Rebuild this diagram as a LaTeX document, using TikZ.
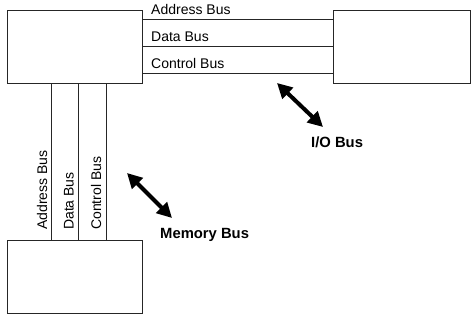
\documentclass[tikz,border=0pt]{standalone}
\usepackage{fontspec}
\setmainfont{Liberation Sans}
\usetikzlibrary{arrows.meta}

\begin{document}
\begin{tikzpicture}[x=1pt,y=-1pt,line cap=butt,
  unit/.style={draw=black!85,line width=0.8pt,minimum width=135pt,minimum height=73pt,inner sep=0pt},
  busline/.style={draw=black!85,line width=0.7pt},
  buslabel/.style={font=\fontsize{14}{16}\selectfont,inner sep=0pt},
  sidelabel/.style={font=\bfseries\fontsize{14.8}{16}\selectfont,inner sep=0pt},
  linkarrow/.style={{Triangle[length=15pt,width=15pt]}-{Triangle[length=15pt,width=15pt]},line width=4pt}]
\useasboundingbox (0,0) rectangle (474,320);
% units
\node[unit] (cpu) at (74.5,46.5) {};
\node[unit,minimum width=137pt] (io) at (401.5,46.5) {};
\node[unit] (mem) at (74.5,276.5) {};
% horizontal buses
\draw[busline] (cpu.east |- 0,19) -- (io.west |- 0,19);
\draw[busline] (cpu.east |- 0,46) -- (io.west |- 0,46);
\draw[busline] (cpu.east |- 0,73) -- (io.west |- 0,73);
\node[buslabel,anchor=base west] (haddr) at (151,14.5) {Address Bus};
\node[buslabel,anchor=base west] (hdata) at (151,41.5) {Data Bus};
\node[buslabel,anchor=base west] (hctrl) at (151,68.5) {Control Bus};
% vertical buses
\draw[busline] (cpu.south -| 51,0) -- (mem.north -| 51,0);
\draw[busline] (cpu.south -| 78,0) -- (mem.north -| 78,0);
\draw[busline] (cpu.south -| 106,0) -- (mem.north -| 106,0);
\node[buslabel,rotate=90,anchor=base west] (vaddr) at (47,230) {Address Bus};
\node[buslabel,rotate=90,anchor=base west] (vdata) at (73.5,230) {Data Bus};
\node[buslabel,rotate=90,anchor=base west] (vctrl) at (101,230) {Control Bus};
% bus arrows
\coordinate (memA) at (127,173);
\coordinate (memB) at (172,218);
\draw[linkarrow] (memA) -- (memB);
\node[sidelabel,anchor=base west] (memlabel) at (160,238.5) {Memory Bus};
\coordinate (ioA) at (277,83);
\coordinate (ioB) at (323,127);
\draw[linkarrow] (ioA) -- (ioB);
\node[sidelabel,anchor=base west] (iolabel) at (311,147.5) {I/O Bus};
\end{tikzpicture}
\end{document}
